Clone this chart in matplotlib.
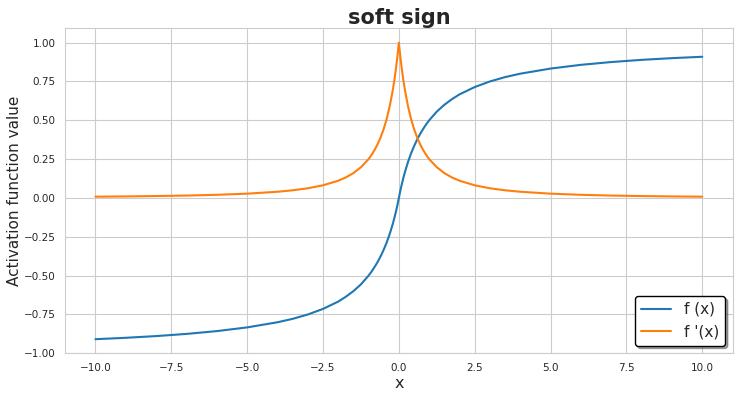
import matplotlib
matplotlib.use("Agg")
import matplotlib.pyplot as plt
import seaborn as sns

# values
x = [-10, -9, -8, -7, -6, -5, -4, -3.5, -3, -2.5, -2, -1.75, -1.5, -1.25, -1, -0.9,
     -0.8, -0.7, -0.6, -0.5, -0.4, -0.3, -0.2, -0.15, -0.1, -0.05, 0,
     0.05, 0.1, 0.15, 0.2, 0.3, 0.4, 0.5, 0.6, 0.7, 0.8, 0.9,
     1, 1.25, 1.5, 1.75, 2, 2.5, 3, 3.5, 4, 5, 6, 7, 8, 9, 10]
f = [-0.909, -0.9, -0.889, -0.875, -0.857, -0.833, -0.8, -0.778, -0.75, -0.714, -0.667, -0.636, -0.6, -0.556, -0.5, -0.474,
     -0.444, -0.412, -0.375, -0.333, -0.286, -0.231, -0.167, -0.130, -0.091, -0.048, 0.0,
     0.048, 0.091, 0.130, 0.167, 0.231, 0.286, 0.333, 0.375, 0.412, 0.444, 0.474,
     0.5, 0.556, 0.6, 0.636, 0.667, 0.714, 0.75, 0.778, 0.8, 0.833, 0.857, 0.875, 0.889, 0.9, 0.909]
df = [0.0083, 0.01, 0.0123, 0.0156, 0.0204, 0.0278, 0.04, 0.0494, 0.0625, 0.0816, 0.111, 0.132, 0.16, 0.198, 0.25, 0.277,
      0.309, 0.346, 0.391, 0.444, 0.510, 0.592, 0.694, 0.756, 0.826, 0.907, 1.0,
      0.907, 0.826, 0.756, 0.694, 0.592, 0.510, 0.444, 0.391, 0.346, 0.309, 0.277,
      0.25, 0.198, 0.16, 0.132, 0.111, 0.0816, 0.0625, 0.0494, 0.04, 0.0278, 0.0204, 0.0156, 0.0123, 0.01, 0.0083]

sns.set_style("whitegrid")

fig, ax = plt.subplots(figsize=(7.4, 3.97), dpi=100)
ax.plot(x, f, label="f (x)")
ax.plot(x, df, label="f '(x)")
ax.set_ylim(bottom=-1)
ax.set_title("soft sign", fontsize=15, fontweight="bold", pad=3)
ax.set_xlabel("x", fontsize=11.5, labelpad=2)
ax.set_ylabel("Activation function value", fontsize=11, labelpad=1)
ax.tick_params(labelsize=7.5)
ax.legend(loc="lower right", fontsize=11, shadow=True, edgecolor="black", framealpha=1)
plt.subplots_adjust(left=0.088, right=0.99, top=0.93, bottom=0.11)
plt.savefig("out.png")
